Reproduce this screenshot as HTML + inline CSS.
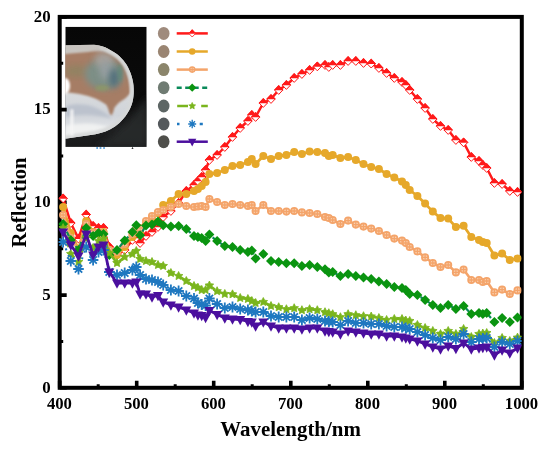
<!DOCTYPE html>
<html lang="en"><head><meta charset="utf-8"><title>Reflection spectra</title>
<style>html,body{margin:0;padding:0;background:#fff}body{width:550px;height:451px;overflow:hidden}</style></head>
<body>
<svg width="550" height="451" viewBox="0 0 550 451" style="display:block">
<defs>
<g id="mr"><path d="M-4.2 0L0 -4.4L4.2 0L0 4.4Z" fill="#fff" stroke="#ff1a1a" stroke-width="1"/><path d="M-4.9 0.3L0 -5L4.9 0.3Z" fill="#ff1a1a"/></g>
<circle id="mg" r="4" fill="#e6a82a"/>
<g id="mo"><circle r="3.2" fill="#f9d0b0" stroke="#f4a46a" stroke-width="1.7"/><path d="M-3 0H3M0 -3V3" stroke="#f4a46a" stroke-width="1.3"/></g>
<path id="md" d="M-5 0L0 -5L5 0L0 5Z" fill="#0a9410"/>
<polygon id="ms" points="0,-4.5 1.3,-1.8 4.3,-1.4 2.1,0.7 2.6,3.6 0,2.2 -2.6,3.6 -2.1,0.7 -4.3,-1.4 -1.3,-1.8" fill="#7ab51d" stroke="#7ab51d" stroke-width="0.8"/>
<path id="ma" d="M-5.3 -0L5.3 0M-3.7 -3.7L3.7 3.7M-0 -5.6L0 5.6M3.7 -3.7L-3.7 3.7" stroke="#1f78c0" stroke-width="1.8" fill="none"/>
<path id="mp" d="M-5 -3.5H5L0 5.8Z" fill="#4b0f9e"/>
</defs>
<rect width="550" height="451" fill="#fff"/>
<g>
<defs>
<clipPath id="ic"><rect x="65.3" y="26.7" width="81.4" height="120.2"/></clipPath>
<clipPath id="vc"><path d="M60 45.3L94 44.8C100 45.2 104 46.8 108 48.8C113 51.5 116.5 53.5 119.5 56.2C122.5 59 124.8 62 126.6 64.8C129 69 130.6 72.5 131.7 76.5C133 81 133.6 84.5 133.7 88.5C133.9 93 133.6 97.5 132.6 101.5C131.5 106 129.7 109.6 127.6 113C124.8 117.5 121 122 115 126.5C109 130.5 102 133 95.5 134.2L60 139.5Z"/></clipPath>
<filter id="b1" x="-30%" y="-30%" width="160%" height="160%"><feGaussianBlur stdDeviation="0.9"/></filter>
<filter id="b2" x="-30%" y="-30%" width="160%" height="160%"><feGaussianBlur stdDeviation="1.8"/></filter>
<filter id="b3" x="-40%" y="-40%" width="180%" height="180%"><feGaussianBlur stdDeviation="3"/></filter>
<linearGradient id="bgg" x1="0" y1="0" x2="0" y2="1"><stop offset="0" stop-color="#070707"/><stop offset="0.6" stop-color="#0b0b0b"/><stop offset="0.85" stop-color="#1e1f20"/><stop offset="1" stop-color="#19191a"/></linearGradient>
<linearGradient id="vg" x1="0" y1="0" x2="0" y2="1"><stop offset="0" stop-color="#c4bfb9"/><stop offset="0.5" stop-color="#d8dadc"/><stop offset="0.72" stop-color="#d0d4da"/><stop offset="0.9" stop-color="#ebecee"/><stop offset="1" stop-color="#d6d8da"/></linearGradient>
</defs>
<g clip-path="url(#ic)">
<rect x="65.3" y="26.7" width="81.4" height="120.2" fill="url(#bgg)"/>
<path d="M147 95L147 147L95 147C112 138 134 120 147 95Z" fill="#2c2d2e" filter="url(#b3)" opacity="0.75"/>
<g clip-path="url(#vc)">
<rect x="60" y="40" width="80" height="105" fill="url(#vg)"/>
<path d="M60 54.5L88 52C96 50.5 104 51.5 110 54C117 57.5 121.5 62 125 68C128.5 75 130.3 84 130 93C127 98 122 100.5 118.5 103L114.5 107.5C113.5 111.5 112.5 114.5 111 115.5C108.8 113.5 109 108.5 106 104.5C101 101 97 99 91 97C83 94.5 73 92.5 60 92Z" fill="#a67d65" filter="url(#b1)"/>
<ellipse cx="76" cy="71" rx="11" ry="5.5" fill="#8e8462" filter="url(#b3)" opacity="0.85"/>
<ellipse cx="104" cy="74" rx="19.5" ry="15.5" fill="#7d8f86" filter="url(#b3)"/>
<ellipse cx="104" cy="60" rx="9.5" ry="8" fill="#a8a19b" filter="url(#b3)" opacity="0.95"/>
<ellipse cx="106" cy="70" rx="7" ry="9.5" fill="#969fa2" filter="url(#b3)" opacity="0.9"/>
<ellipse cx="114" cy="78" rx="4.5" ry="9.5" fill="#4f6d7b" filter="url(#b3)"/>
<ellipse cx="120" cy="73" rx="2.5" ry="9" fill="#5d8878" filter="url(#b2)" opacity="0.7"/>
<ellipse cx="102" cy="88" rx="7" ry="3" fill="#8c9868" filter="url(#b2)" opacity="0.85"/>
<path d="M66 106C80 102 98 104 112 119C100 115 80 113 66 117Z" fill="#bcc2cd" filter="url(#b2)"/>
<path d="M66 126C85 122 100 124 110 128L96 133L66 137Z" fill="#f0f1f1" filter="url(#b2)"/>
<path d="M100 45.5C104 46 106 47.5 108 48.8C113 51.5 116.5 53.5 119.5 56.2C122.5 59 124.8 62 126.6 64.8C129 69 130.6 72.5 131.7 76.5C133 81 133.6 84.5 133.7 88.5C133.9 93 133.6 97.5 132.6 101.5C131.5 106 129.7 109.6 127.6 113C124.8 117.5 121 122 115 126.5C109 130.5 102 133 95.5 134.2L60 139.5" fill="none" stroke="#d6d8d8" stroke-width="7" filter="url(#b1)" opacity="0.9"/>
<path d="M60 45.3L94 44.8C100 45.2 104 46.8 108 48.8" fill="none" stroke="#c9c6c2" stroke-width="3" filter="url(#b1)" opacity="0.9"/>
<ellipse cx="65" cy="86" rx="5" ry="8" fill="#ffffff" filter="url(#b1)"/>
<rect x="70.3" y="109" width="3.2" height="27" rx="1.5" fill="#f6f6f6" filter="url(#b1)" opacity="0.9"/>
</g>
</g>
<path d="M96.3 148h1.7M99.6 148h1.8M103.2 148h1.7" stroke="#3a8ad0" stroke-width="1.3"/>
<path d="M131.5 149l1-2.2l1 2.2z" fill="#333"/>
</g>

<rect x="59.7" y="16.9" width="462.1" height="370.9" fill="none" stroke="#000" stroke-width="4"/>
<path d="M59.7 387.8H66.7M59.7 295.1H66.7M59.7 202.3H66.7M59.7 109.6H66.7M59.7 16.9H66.7M59.7 387.8V380.8M136.7 387.8V380.8M213.7 387.8V380.8M290.8 387.8V380.8M367.8 387.8V380.8M444.8 387.8V380.8M521.8 387.8V380.8" stroke="#000" stroke-width="3.6"/>
<path d="M59.7 341.4H63.2M59.7 248.7H63.2M59.7 156H63.2M59.7 63.3H63.2M98.2 387.8V384.2M175.2 387.8V384.2M252.2 387.8V384.2M329.3 387.8V384.2M406.3 387.8V384.2M483.3 387.8V384.2" stroke="#000" stroke-width="3"/>
<clipPath id="pc"><rect x="58.6" y="15" width="463.1" height="374.6"/></clipPath><g clip-path="url(#pc)">
<polyline points="63.1,198.4 70.8,223 78.5,238.6 86.2,214.6 93.1,226 98.5,228 103.5,228 109.3,247 117,255 124.7,250 132.4,240 136.3,238 140.1,243 146,236 152,232 158,227 163.2,217 170.9,211 178.6,203 186.3,191 194,185 197.9,181 201.7,177 205.6,170 209.4,160 217.1,155 224.8,147 232.5,137 240.2,128 247.9,121 251.8,115 255.6,117 263.3,103 271,99 278.7,90 286.4,85 294.2,78 301.9,74 309.6,70 317.3,66.4 325,65 328.8,67 332.7,65 340.4,65 348.1,61 355.8,61 363.5,63 371.2,63.6 378.9,68 386.6,73 394.3,78 402,82 405.8,85 409.7,90 417.4,99 425.1,108 432.8,119 440.5,126 448.2,130 455.9,140 463.6,142.4 471.3,157 479,161 482.8,165 486.7,168 494.4,183 502.1,184 509.8,191 517.5,192" fill="none" stroke="#ff1a1a" stroke-width="2.5" stroke-linejoin="round"/>
<g><use href="#mr" x="63.1" y="198.4"/><use href="#mr" x="70.8" y="223"/><use href="#mr" x="78.5" y="238.6"/><use href="#mr" x="86.2" y="214.6"/><use href="#mr" x="93.1" y="226"/><use href="#mr" x="98.5" y="228"/><use href="#mr" x="103.5" y="228"/><use href="#mr" x="109.3" y="247"/><use href="#mr" x="117" y="255"/><use href="#mr" x="124.7" y="250"/><use href="#mr" x="132.4" y="240"/><use href="#mr" x="136.3" y="238"/><use href="#mr" x="140.1" y="243"/><use href="#mr" x="146" y="236"/><use href="#mr" x="152" y="232"/><use href="#mr" x="158" y="227"/><use href="#mr" x="163.2" y="217"/><use href="#mr" x="170.9" y="211"/><use href="#mr" x="178.6" y="203"/><use href="#mr" x="186.3" y="191"/><use href="#mr" x="194" y="185"/><use href="#mr" x="197.9" y="181"/><use href="#mr" x="201.7" y="177"/><use href="#mr" x="205.6" y="170"/><use href="#mr" x="209.4" y="160"/><use href="#mr" x="217.1" y="155"/><use href="#mr" x="224.8" y="147"/><use href="#mr" x="232.5" y="137"/><use href="#mr" x="240.2" y="128"/><use href="#mr" x="247.9" y="121"/><use href="#mr" x="251.8" y="115"/><use href="#mr" x="255.6" y="117"/><use href="#mr" x="263.3" y="103"/><use href="#mr" x="271" y="99"/><use href="#mr" x="278.7" y="90"/><use href="#mr" x="286.4" y="85"/><use href="#mr" x="294.2" y="78"/><use href="#mr" x="301.9" y="74"/><use href="#mr" x="309.6" y="70"/><use href="#mr" x="317.3" y="66.4"/><use href="#mr" x="325" y="65"/><use href="#mr" x="328.8" y="67"/><use href="#mr" x="332.7" y="65"/><use href="#mr" x="340.4" y="65"/><use href="#mr" x="348.1" y="61"/><use href="#mr" x="355.8" y="61"/><use href="#mr" x="363.5" y="63"/><use href="#mr" x="371.2" y="63.6"/><use href="#mr" x="378.9" y="68"/><use href="#mr" x="386.6" y="73"/><use href="#mr" x="394.3" y="78"/><use href="#mr" x="402" y="82"/><use href="#mr" x="405.8" y="85"/><use href="#mr" x="409.7" y="90"/><use href="#mr" x="417.4" y="99"/><use href="#mr" x="425.1" y="108"/><use href="#mr" x="432.8" y="119"/><use href="#mr" x="440.5" y="126"/><use href="#mr" x="448.2" y="130"/><use href="#mr" x="455.9" y="140"/><use href="#mr" x="463.6" y="142.4"/><use href="#mr" x="471.3" y="157"/><use href="#mr" x="479" y="161"/><use href="#mr" x="482.8" y="165"/><use href="#mr" x="486.7" y="168"/><use href="#mr" x="494.4" y="183"/><use href="#mr" x="502.1" y="184"/><use href="#mr" x="509.8" y="191"/><use href="#mr" x="517.5" y="192"/></g>
<polyline points="63.1,207 70.8,233 78.5,249 86.2,221 93.1,232 98.5,233 103.5,232 109.3,250 117,255 124.7,247 132.4,237 136.3,233 140.1,232 146,224 152,219 158,213 163.2,205 170.9,201 178.6,194 186.3,194 194,191 197.9,189 201.7,186 205.6,182 209.4,174 217.1,173 224.8,170 232.5,166 240.2,165 247.9,162 251.8,159 255.6,164 263.3,156 271,159 278.7,156 286.4,155 294.2,152 301.9,154 309.6,151.6 317.3,152 325,153 328.8,156 332.7,155 340.4,158 348.1,157 355.8,160 363.5,164 371.2,167 378.9,169 386.6,174 394.3,177.6 402,181.6 405.8,185 409.7,190 417.4,196 425.1,203.6 432.8,211.6 440.5,218 448.2,218.6 455.9,227 463.6,225.8 471.3,237 479,240 482.8,242 486.7,243 494.4,255.6 502.1,253.6 509.8,260 517.5,258.4" fill="none" stroke="#e6a82a" stroke-width="2.8" stroke-linejoin="round"/>
<g><use href="#mg" x="63.1" y="207"/><use href="#mg" x="70.8" y="233"/><use href="#mg" x="78.5" y="249"/><use href="#mg" x="86.2" y="221"/><use href="#mg" x="93.1" y="232"/><use href="#mg" x="98.5" y="233"/><use href="#mg" x="103.5" y="232"/><use href="#mg" x="109.3" y="250"/><use href="#mg" x="117" y="255"/><use href="#mg" x="124.7" y="247"/><use href="#mg" x="132.4" y="237"/><use href="#mg" x="136.3" y="233"/><use href="#mg" x="140.1" y="232"/><use href="#mg" x="146" y="224"/><use href="#mg" x="152" y="219"/><use href="#mg" x="158" y="213"/><use href="#mg" x="163.2" y="205"/><use href="#mg" x="170.9" y="201"/><use href="#mg" x="178.6" y="194"/><use href="#mg" x="186.3" y="194"/><use href="#mg" x="194" y="191"/><use href="#mg" x="197.9" y="189"/><use href="#mg" x="201.7" y="186"/><use href="#mg" x="205.6" y="182"/><use href="#mg" x="209.4" y="174"/><use href="#mg" x="217.1" y="173"/><use href="#mg" x="224.8" y="170"/><use href="#mg" x="232.5" y="166"/><use href="#mg" x="240.2" y="165"/><use href="#mg" x="247.9" y="162"/><use href="#mg" x="251.8" y="159"/><use href="#mg" x="255.6" y="164"/><use href="#mg" x="263.3" y="156"/><use href="#mg" x="271" y="159"/><use href="#mg" x="278.7" y="156"/><use href="#mg" x="286.4" y="155"/><use href="#mg" x="294.2" y="152"/><use href="#mg" x="301.9" y="154"/><use href="#mg" x="309.6" y="151.6"/><use href="#mg" x="317.3" y="152"/><use href="#mg" x="325" y="153"/><use href="#mg" x="328.8" y="156"/><use href="#mg" x="332.7" y="155"/><use href="#mg" x="340.4" y="158"/><use href="#mg" x="348.1" y="157"/><use href="#mg" x="355.8" y="160"/><use href="#mg" x="363.5" y="164"/><use href="#mg" x="371.2" y="167"/><use href="#mg" x="378.9" y="169"/><use href="#mg" x="386.6" y="174"/><use href="#mg" x="394.3" y="177.6"/><use href="#mg" x="402" y="181.6"/><use href="#mg" x="405.8" y="185"/><use href="#mg" x="409.7" y="190"/><use href="#mg" x="417.4" y="196"/><use href="#mg" x="425.1" y="203.6"/><use href="#mg" x="432.8" y="211.6"/><use href="#mg" x="440.5" y="218"/><use href="#mg" x="448.2" y="218.6"/><use href="#mg" x="455.9" y="227"/><use href="#mg" x="463.6" y="225.8"/><use href="#mg" x="471.3" y="237"/><use href="#mg" x="479" y="240"/><use href="#mg" x="482.8" y="242"/><use href="#mg" x="486.7" y="243"/><use href="#mg" x="494.4" y="255.6"/><use href="#mg" x="502.1" y="253.6"/><use href="#mg" x="509.8" y="260"/><use href="#mg" x="517.5" y="258.4"/></g>
<polyline points="63.1,215 70.8,238 78.5,250 86.2,224 93.1,233 98.5,234 103.5,233 109.3,250 117,252 124.7,244 132.4,234 136.3,229 140.1,228 146,221 152,216 158,212 163.2,210 170.9,207 178.6,204 186.3,206 194,207 197.9,206.5 201.7,206 205.6,207 209.4,199 217.1,202 224.8,205 232.5,204 240.2,205 247.9,206 251.8,205 255.6,211 263.3,205 271,211 278.7,211 286.4,211.6 294.2,211 301.9,212.4 309.6,213 317.3,214 325,217 328.8,218 332.7,220 340.4,224 348.1,220.6 355.8,224.6 363.5,226.6 371.2,228.6 378.9,231 386.6,235 394.3,238.6 402,240.6 405.8,243 409.7,247 417.4,251.4 425.1,257.4 432.8,263 440.5,267 448.2,265 455.9,272.4 463.6,269.6 471.3,280 479,280 482.8,282 486.7,281 494.4,292.4 502.1,289.6 509.8,294 517.5,290.4" fill="none" stroke="#f4a46a" stroke-width="2.6" stroke-linejoin="round"/>
<g><use href="#mo" x="63.1" y="215"/><use href="#mo" x="70.8" y="238"/><use href="#mo" x="78.5" y="250"/><use href="#mo" x="86.2" y="224"/><use href="#mo" x="93.1" y="233"/><use href="#mo" x="98.5" y="234"/><use href="#mo" x="103.5" y="233"/><use href="#mo" x="109.3" y="250"/><use href="#mo" x="117" y="252"/><use href="#mo" x="124.7" y="244"/><use href="#mo" x="132.4" y="234"/><use href="#mo" x="136.3" y="229"/><use href="#mo" x="140.1" y="228"/><use href="#mo" x="146" y="221"/><use href="#mo" x="152" y="216"/><use href="#mo" x="158" y="212"/><use href="#mo" x="163.2" y="210"/><use href="#mo" x="170.9" y="207"/><use href="#mo" x="178.6" y="204"/><use href="#mo" x="186.3" y="206"/><use href="#mo" x="194" y="207"/><use href="#mo" x="197.9" y="206.5"/><use href="#mo" x="201.7" y="206"/><use href="#mo" x="205.6" y="207"/><use href="#mo" x="209.4" y="199"/><use href="#mo" x="217.1" y="202"/><use href="#mo" x="224.8" y="205"/><use href="#mo" x="232.5" y="204"/><use href="#mo" x="240.2" y="205"/><use href="#mo" x="247.9" y="206"/><use href="#mo" x="251.8" y="205"/><use href="#mo" x="255.6" y="211"/><use href="#mo" x="263.3" y="205"/><use href="#mo" x="271" y="211"/><use href="#mo" x="278.7" y="211"/><use href="#mo" x="286.4" y="211.6"/><use href="#mo" x="294.2" y="211"/><use href="#mo" x="301.9" y="212.4"/><use href="#mo" x="309.6" y="213"/><use href="#mo" x="317.3" y="214"/><use href="#mo" x="325" y="217"/><use href="#mo" x="328.8" y="218"/><use href="#mo" x="332.7" y="220"/><use href="#mo" x="340.4" y="224"/><use href="#mo" x="348.1" y="220.6"/><use href="#mo" x="355.8" y="224.6"/><use href="#mo" x="363.5" y="226.6"/><use href="#mo" x="371.2" y="228.6"/><use href="#mo" x="378.9" y="231"/><use href="#mo" x="386.6" y="235"/><use href="#mo" x="394.3" y="238.6"/><use href="#mo" x="402" y="240.6"/><use href="#mo" x="405.8" y="243"/><use href="#mo" x="409.7" y="247"/><use href="#mo" x="417.4" y="251.4"/><use href="#mo" x="425.1" y="257.4"/><use href="#mo" x="432.8" y="263"/><use href="#mo" x="440.5" y="267"/><use href="#mo" x="448.2" y="265"/><use href="#mo" x="455.9" y="272.4"/><use href="#mo" x="463.6" y="269.6"/><use href="#mo" x="471.3" y="280"/><use href="#mo" x="479" y="280"/><use href="#mo" x="482.8" y="282"/><use href="#mo" x="486.7" y="281"/><use href="#mo" x="494.4" y="292.4"/><use href="#mo" x="502.1" y="289.6"/><use href="#mo" x="509.8" y="294"/><use href="#mo" x="517.5" y="290.4"/></g>
<polyline points="63.1,224 70.8,240 78.5,250 86.2,228 93.1,236 98.5,233 103.5,234 109.3,255 117,250 124.7,240.6 132.4,232 136.3,225.3 140.1,235.3 146,225.5 152,224.5 158,221.5 163.2,225.3 170.9,226.5 178.6,226 186.3,229 194,236 197.9,237 201.7,238 205.6,241 209.4,234.6 217.1,241 224.8,246 232.5,247 240.2,250 247.9,252 251.8,250.6 255.6,258.6 263.3,254 271,261 278.7,262 286.4,263.3 294.2,263.3 301.9,266 309.6,265 317.3,267 325,269.3 328.8,272.6 332.7,272 340.4,276 348.1,274 355.8,276 363.5,277.4 371.2,279 378.9,281.4 386.6,284 394.3,287 402,288 405.8,290 409.7,294 417.4,295 425.1,300 432.8,305 440.5,308 448.2,305 455.9,309 463.6,306 471.3,314 479,313 482.8,314 486.7,313 494.4,322 502.1,318 509.8,322 517.5,317.6" fill="none" stroke="#0a8a5a" stroke-width="2.2" stroke-linejoin="round" stroke-dasharray="5 3.5"/>
<g><use href="#md" x="63.1" y="224"/><use href="#md" x="70.8" y="240"/><use href="#md" x="78.5" y="250"/><use href="#md" x="86.2" y="228"/><use href="#md" x="93.1" y="236"/><use href="#md" x="98.5" y="233"/><use href="#md" x="103.5" y="234"/><use href="#md" x="109.3" y="255"/><use href="#md" x="117" y="250"/><use href="#md" x="124.7" y="240.6"/><use href="#md" x="132.4" y="232"/><use href="#md" x="136.3" y="225.3"/><use href="#md" x="140.1" y="235.3"/><use href="#md" x="146" y="225.5"/><use href="#md" x="152" y="224.5"/><use href="#md" x="158" y="221.5"/><use href="#md" x="163.2" y="225.3"/><use href="#md" x="170.9" y="226.5"/><use href="#md" x="178.6" y="226"/><use href="#md" x="186.3" y="229"/><use href="#md" x="194" y="236"/><use href="#md" x="197.9" y="237"/><use href="#md" x="201.7" y="238"/><use href="#md" x="205.6" y="241"/><use href="#md" x="209.4" y="234.6"/><use href="#md" x="217.1" y="241"/><use href="#md" x="224.8" y="246"/><use href="#md" x="232.5" y="247"/><use href="#md" x="240.2" y="250"/><use href="#md" x="247.9" y="252"/><use href="#md" x="251.8" y="250.6"/><use href="#md" x="255.6" y="258.6"/><use href="#md" x="263.3" y="254"/><use href="#md" x="271" y="261"/><use href="#md" x="278.7" y="262"/><use href="#md" x="286.4" y="263.3"/><use href="#md" x="294.2" y="263.3"/><use href="#md" x="301.9" y="266"/><use href="#md" x="309.6" y="265"/><use href="#md" x="317.3" y="267"/><use href="#md" x="325" y="269.3"/><use href="#md" x="328.8" y="272.6"/><use href="#md" x="332.7" y="272"/><use href="#md" x="340.4" y="276"/><use href="#md" x="348.1" y="274"/><use href="#md" x="355.8" y="276"/><use href="#md" x="363.5" y="277.4"/><use href="#md" x="371.2" y="279"/><use href="#md" x="378.9" y="281.4"/><use href="#md" x="386.6" y="284"/><use href="#md" x="394.3" y="287"/><use href="#md" x="402" y="288"/><use href="#md" x="405.8" y="290"/><use href="#md" x="409.7" y="294"/><use href="#md" x="417.4" y="295"/><use href="#md" x="425.1" y="300"/><use href="#md" x="432.8" y="305"/><use href="#md" x="440.5" y="308"/><use href="#md" x="448.2" y="305"/><use href="#md" x="455.9" y="309"/><use href="#md" x="463.6" y="306"/><use href="#md" x="471.3" y="314"/><use href="#md" x="479" y="313"/><use href="#md" x="482.8" y="314"/><use href="#md" x="486.7" y="313"/><use href="#md" x="494.4" y="322"/><use href="#md" x="502.1" y="318"/><use href="#md" x="509.8" y="322"/><use href="#md" x="517.5" y="317.6"/></g>
<polyline points="63.1,228 70.8,254 78.5,262 86.2,238 93.1,248 98.5,241 103.5,239 109.3,253 117,263 124.7,257 132.4,254 136.3,251 140.1,259 146,261 152,262 158,265 163.2,266 170.9,273 178.6,276 186.3,281 194,286 197.9,287.7 201.7,290 205.6,290 209.4,285.5 217.1,291.2 224.8,294 232.5,294.3 240.2,298 247.9,299 251.8,301 255.6,303 263.3,302 271,306 278.7,307.2 286.4,309.2 294.2,308.2 301.9,310.2 309.6,309.2 317.3,310.2 325,312.2 328.8,313.2 332.7,314.2 340.4,317.2 348.1,314.2 355.8,315.2 363.5,316.2 371.2,316.5 378.9,318 386.6,320 394.3,319 402,319 405.8,320.5 409.7,321 417.4,325 425.1,328 432.8,331 440.5,334 448.2,331 455.9,334 463.6,329 471.3,337 479,334 482.8,333.5 486.7,333 494.4,343 502.1,338 509.8,341 517.5,337.6" fill="none" stroke="#7ab51d" stroke-width="2.6" stroke-linejoin="round" stroke-dasharray="8 4"/>
<g><use href="#ms" x="63.1" y="228"/><use href="#ms" x="70.8" y="254"/><use href="#ms" x="78.5" y="262"/><use href="#ms" x="86.2" y="238"/><use href="#ms" x="93.1" y="248"/><use href="#ms" x="98.5" y="241"/><use href="#ms" x="103.5" y="239"/><use href="#ms" x="109.3" y="253"/><use href="#ms" x="117" y="263"/><use href="#ms" x="124.7" y="257"/><use href="#ms" x="132.4" y="254"/><use href="#ms" x="136.3" y="251"/><use href="#ms" x="140.1" y="259"/><use href="#ms" x="146" y="261"/><use href="#ms" x="152" y="262"/><use href="#ms" x="158" y="265"/><use href="#ms" x="163.2" y="266"/><use href="#ms" x="170.9" y="273"/><use href="#ms" x="178.6" y="276"/><use href="#ms" x="186.3" y="281"/><use href="#ms" x="194" y="286"/><use href="#ms" x="197.9" y="287.7"/><use href="#ms" x="201.7" y="290"/><use href="#ms" x="205.6" y="290"/><use href="#ms" x="209.4" y="285.5"/><use href="#ms" x="217.1" y="291.2"/><use href="#ms" x="224.8" y="294"/><use href="#ms" x="232.5" y="294.3"/><use href="#ms" x="240.2" y="298"/><use href="#ms" x="247.9" y="299"/><use href="#ms" x="251.8" y="301"/><use href="#ms" x="255.6" y="303"/><use href="#ms" x="263.3" y="302"/><use href="#ms" x="271" y="306"/><use href="#ms" x="278.7" y="307.2"/><use href="#ms" x="286.4" y="309.2"/><use href="#ms" x="294.2" y="308.2"/><use href="#ms" x="301.9" y="310.2"/><use href="#ms" x="309.6" y="309.2"/><use href="#ms" x="317.3" y="310.2"/><use href="#ms" x="325" y="312.2"/><use href="#ms" x="328.8" y="313.2"/><use href="#ms" x="332.7" y="314.2"/><use href="#ms" x="340.4" y="317.2"/><use href="#ms" x="348.1" y="314.2"/><use href="#ms" x="355.8" y="315.2"/><use href="#ms" x="363.5" y="316.2"/><use href="#ms" x="371.2" y="316.5"/><use href="#ms" x="378.9" y="318"/><use href="#ms" x="386.6" y="320"/><use href="#ms" x="394.3" y="319"/><use href="#ms" x="402" y="319"/><use href="#ms" x="405.8" y="320.5"/><use href="#ms" x="409.7" y="321"/><use href="#ms" x="417.4" y="325"/><use href="#ms" x="425.1" y="328"/><use href="#ms" x="432.8" y="331"/><use href="#ms" x="440.5" y="334"/><use href="#ms" x="448.2" y="331"/><use href="#ms" x="455.9" y="334"/><use href="#ms" x="463.6" y="329"/><use href="#ms" x="471.3" y="337"/><use href="#ms" x="479" y="334"/><use href="#ms" x="482.8" y="333.5"/><use href="#ms" x="486.7" y="333"/><use href="#ms" x="494.4" y="343"/><use href="#ms" x="502.1" y="338"/><use href="#ms" x="509.8" y="341"/><use href="#ms" x="517.5" y="337.6"/></g>
<polyline points="63.1,242 70.8,261 78.5,269 86.2,247 93.1,260 98.5,252 103.5,250 109.3,272 117,275 124.7,273 132.4,270 136.3,267 140.1,275 146,279 152,280 158,282 163.2,285 170.9,290 178.6,291 186.3,296 194,298.5 197.9,303 201.7,304.5 205.6,305.5 209.4,298.5 217.1,304 224.8,308 232.5,307 240.2,309 247.9,310 251.8,311 255.6,312 263.3,312 271,316 278.7,317 286.4,317 294.2,317 301.9,320 309.6,318 317.3,319 325,321 328.8,321.5 332.7,322 340.4,325 348.1,321 355.8,323 363.5,323 371.2,324 378.9,324 386.6,326 394.3,327 402,327 405.8,328 409.7,329 417.4,332 425.1,335 432.8,338 440.5,340 448.2,337 455.9,339 463.6,334 471.3,342 479,339 482.8,338.5 486.7,338 494.4,347 502.1,342 509.8,344 517.5,341" fill="none" stroke="#1f78c0" stroke-width="2" stroke-linejoin="round" stroke-dasharray="2 5"/>
<g><use href="#ma" x="63.1" y="242"/><use href="#ma" x="70.8" y="261"/><use href="#ma" x="78.5" y="269"/><use href="#ma" x="86.2" y="247"/><use href="#ma" x="93.1" y="260"/><use href="#ma" x="98.5" y="252"/><use href="#ma" x="103.5" y="250"/><use href="#ma" x="109.3" y="272"/><use href="#ma" x="117" y="275"/><use href="#ma" x="124.7" y="273"/><use href="#ma" x="132.4" y="270"/><use href="#ma" x="136.3" y="267"/><use href="#ma" x="140.1" y="275"/><use href="#ma" x="146" y="279"/><use href="#ma" x="152" y="280"/><use href="#ma" x="158" y="282"/><use href="#ma" x="163.2" y="285"/><use href="#ma" x="170.9" y="290"/><use href="#ma" x="178.6" y="291"/><use href="#ma" x="186.3" y="296"/><use href="#ma" x="194" y="298.5"/><use href="#ma" x="197.9" y="303"/><use href="#ma" x="201.7" y="304.5"/><use href="#ma" x="205.6" y="305.5"/><use href="#ma" x="209.4" y="298.5"/><use href="#ma" x="217.1" y="304"/><use href="#ma" x="224.8" y="308"/><use href="#ma" x="232.5" y="307"/><use href="#ma" x="240.2" y="309"/><use href="#ma" x="247.9" y="310"/><use href="#ma" x="251.8" y="311"/><use href="#ma" x="255.6" y="312"/><use href="#ma" x="263.3" y="312"/><use href="#ma" x="271" y="316"/><use href="#ma" x="278.7" y="317"/><use href="#ma" x="286.4" y="317"/><use href="#ma" x="294.2" y="317"/><use href="#ma" x="301.9" y="320"/><use href="#ma" x="309.6" y="318"/><use href="#ma" x="317.3" y="319"/><use href="#ma" x="325" y="321"/><use href="#ma" x="328.8" y="321.5"/><use href="#ma" x="332.7" y="322"/><use href="#ma" x="340.4" y="325"/><use href="#ma" x="348.1" y="321"/><use href="#ma" x="355.8" y="323"/><use href="#ma" x="363.5" y="323"/><use href="#ma" x="371.2" y="324"/><use href="#ma" x="378.9" y="324"/><use href="#ma" x="386.6" y="326"/><use href="#ma" x="394.3" y="327"/><use href="#ma" x="402" y="327"/><use href="#ma" x="405.8" y="328"/><use href="#ma" x="409.7" y="329"/><use href="#ma" x="417.4" y="332"/><use href="#ma" x="425.1" y="335"/><use href="#ma" x="432.8" y="338"/><use href="#ma" x="440.5" y="340"/><use href="#ma" x="448.2" y="337"/><use href="#ma" x="455.9" y="339"/><use href="#ma" x="463.6" y="334"/><use href="#ma" x="471.3" y="342"/><use href="#ma" x="479" y="339"/><use href="#ma" x="482.8" y="338.5"/><use href="#ma" x="486.7" y="338"/><use href="#ma" x="494.4" y="347"/><use href="#ma" x="502.1" y="342"/><use href="#ma" x="509.8" y="344"/><use href="#ma" x="517.5" y="341"/></g>
<polyline points="63.1,232 70.8,245 78.5,256 86.2,234 93.1,255 98.5,247 103.5,245 109.3,272 117,283 124.7,283 132.4,283 136.3,282 140.1,294 146,294 152,297 158,295.5 163.2,302 170.9,305 178.6,307 186.3,310 194,313 197.9,315 201.7,315.5 205.6,317.5 209.4,310.5 217.1,314.5 224.8,318 232.5,319 240.2,319.5 247.9,321.5 251.8,322 255.6,326 263.3,322 271,326 278.7,328 286.4,328 294.2,328 301.9,329 309.6,328 317.3,328 325,331 328.8,331.5 332.7,332 340.4,334 348.1,331 355.8,332 363.5,333 371.2,334 378.9,334 386.6,336 394.3,336 402,337 405.8,338 409.7,339 417.4,341 425.1,344 432.8,347 440.5,349 448.2,346 455.9,348.5 463.6,343 471.3,349 479,348 482.8,347.5 486.7,347 494.4,355 502.1,350 509.8,353 517.5,348" fill="none" stroke="#4b0f9e" stroke-width="2.8" stroke-linejoin="round"/>
<g><use href="#mp" x="63.1" y="232"/><use href="#mp" x="70.8" y="245"/><use href="#mp" x="78.5" y="256"/><use href="#mp" x="86.2" y="234"/><use href="#mp" x="93.1" y="255"/><use href="#mp" x="98.5" y="247"/><use href="#mp" x="103.5" y="245"/><use href="#mp" x="109.3" y="272"/><use href="#mp" x="117" y="283"/><use href="#mp" x="124.7" y="283"/><use href="#mp" x="132.4" y="283"/><use href="#mp" x="136.3" y="282"/><use href="#mp" x="140.1" y="294"/><use href="#mp" x="146" y="294"/><use href="#mp" x="152" y="297"/><use href="#mp" x="158" y="295.5"/><use href="#mp" x="163.2" y="302"/><use href="#mp" x="170.9" y="305"/><use href="#mp" x="178.6" y="307"/><use href="#mp" x="186.3" y="310"/><use href="#mp" x="194" y="313"/><use href="#mp" x="197.9" y="315"/><use href="#mp" x="201.7" y="315.5"/><use href="#mp" x="205.6" y="317.5"/><use href="#mp" x="209.4" y="310.5"/><use href="#mp" x="217.1" y="314.5"/><use href="#mp" x="224.8" y="318"/><use href="#mp" x="232.5" y="319"/><use href="#mp" x="240.2" y="319.5"/><use href="#mp" x="247.9" y="321.5"/><use href="#mp" x="251.8" y="322"/><use href="#mp" x="255.6" y="326"/><use href="#mp" x="263.3" y="322"/><use href="#mp" x="271" y="326"/><use href="#mp" x="278.7" y="328"/><use href="#mp" x="286.4" y="328"/><use href="#mp" x="294.2" y="328"/><use href="#mp" x="301.9" y="329"/><use href="#mp" x="309.6" y="328"/><use href="#mp" x="317.3" y="328"/><use href="#mp" x="325" y="331"/><use href="#mp" x="328.8" y="331.5"/><use href="#mp" x="332.7" y="332"/><use href="#mp" x="340.4" y="334"/><use href="#mp" x="348.1" y="331"/><use href="#mp" x="355.8" y="332"/><use href="#mp" x="363.5" y="333"/><use href="#mp" x="371.2" y="334"/><use href="#mp" x="378.9" y="334"/><use href="#mp" x="386.6" y="336"/><use href="#mp" x="394.3" y="336"/><use href="#mp" x="402" y="337"/><use href="#mp" x="405.8" y="338"/><use href="#mp" x="409.7" y="339"/><use href="#mp" x="417.4" y="341"/><use href="#mp" x="425.1" y="344"/><use href="#mp" x="432.8" y="347"/><use href="#mp" x="440.5" y="349"/><use href="#mp" x="448.2" y="346"/><use href="#mp" x="455.9" y="348.5"/><use href="#mp" x="463.6" y="343"/><use href="#mp" x="471.3" y="349"/><use href="#mp" x="479" y="348"/><use href="#mp" x="482.8" y="347.5"/><use href="#mp" x="486.7" y="347"/><use href="#mp" x="494.4" y="355"/><use href="#mp" x="502.1" y="350"/><use href="#mp" x="509.8" y="353"/><use href="#mp" x="517.5" y="348"/></g>
</g>
<ellipse cx="163.7" cy="33.4" rx="5.8" ry="6.5" fill="#9f8b7d"/>
<ellipse cx="163.7" cy="51.5" rx="5.8" ry="6.5" fill="#9a8572"/>
<ellipse cx="163.7" cy="69.6" rx="5.8" ry="6.5" fill="#8b856b"/>
<ellipse cx="163.7" cy="87.7" rx="5.8" ry="6.5" fill="#6f7b72"/>
<ellipse cx="163.7" cy="106" rx="5.8" ry="6.5" fill="#5d6665"/>
<ellipse cx="163.7" cy="124" rx="5.8" ry="6.5" fill="#54595c"/>
<ellipse cx="163.7" cy="141.7" rx="5.8" ry="6.5" fill="#4f4f4b"/>
<path d="M176.7 33.4H207.8" stroke="#ff1a1a" stroke-width="2.5"/>
<use href="#mr" transform="translate(192.2 33.4) scale(0.82)"/>
<path d="M176.7 51.5H207.8" stroke="#e6a82a" stroke-width="2.5"/>
<use href="#mg" transform="translate(192.2 51.5) scale(0.82)"/>
<path d="M176.7 69.6H207.8" stroke="#f4a46a" stroke-width="2.5"/>
<use href="#mo" transform="translate(192.2 69.6) scale(0.82)"/>
<path d="M176.7 87.7H207.8" stroke="#0a8a5a" stroke-width="2.5" stroke-dasharray="5 3.5"/>
<use href="#md" transform="translate(192.2 87.7) scale(0.82)"/>
<path d="M177.2 106H188M201.2 106H207.8" stroke="#7ab51d" stroke-width="2.4"/>
<use href="#ms" transform="translate(192.2 106) scale(0.8)"/>
<path d="M177 124H179.5M199.7 124H202.8" stroke="#1f78c0" stroke-width="2.3"/>
<use href="#ma" transform="translate(192.2 124) scale(0.75)"/>
<path d="M176.7 141.7H207.8" stroke="#4b0f9e" stroke-width="2.5"/>
<use href="#mp" transform="translate(192.2 141.7) scale(0.82)"/>
<g font-family="'Liberation Serif', 'Times New Roman', serif" font-weight="bold" fill="#000">
<g font-size="16.7" text-anchor="middle">
<text x="59.4" y="409.1">400</text>
<text x="136.4" y="409.1">500</text>
<text x="213.4" y="409.1">600</text>
<text x="290.4" y="409.1">700</text>
<text x="367.5" y="409.1">800</text>
<text x="444.5" y="409.1">900</text>
<text x="521.5" y="409.1">1000</text>
</g><g font-size="16.9" text-anchor="end">
<text x="50.6" y="392.6">0</text>
<text x="50.6" y="299.9">5</text>
<text x="50.6" y="207.2">10</text>
<text x="50.6" y="114.4">15</text>
<text x="50.6" y="21.7">20</text>
</g>
<text x="290.6" y="435.8" font-size="20.9" text-anchor="middle">Wavelength/nm</text>
<text transform="translate(26.3 202.4) rotate(-90)" font-size="20.8" text-anchor="middle">Reflection</text>
</g>
</svg>
</body></html>
